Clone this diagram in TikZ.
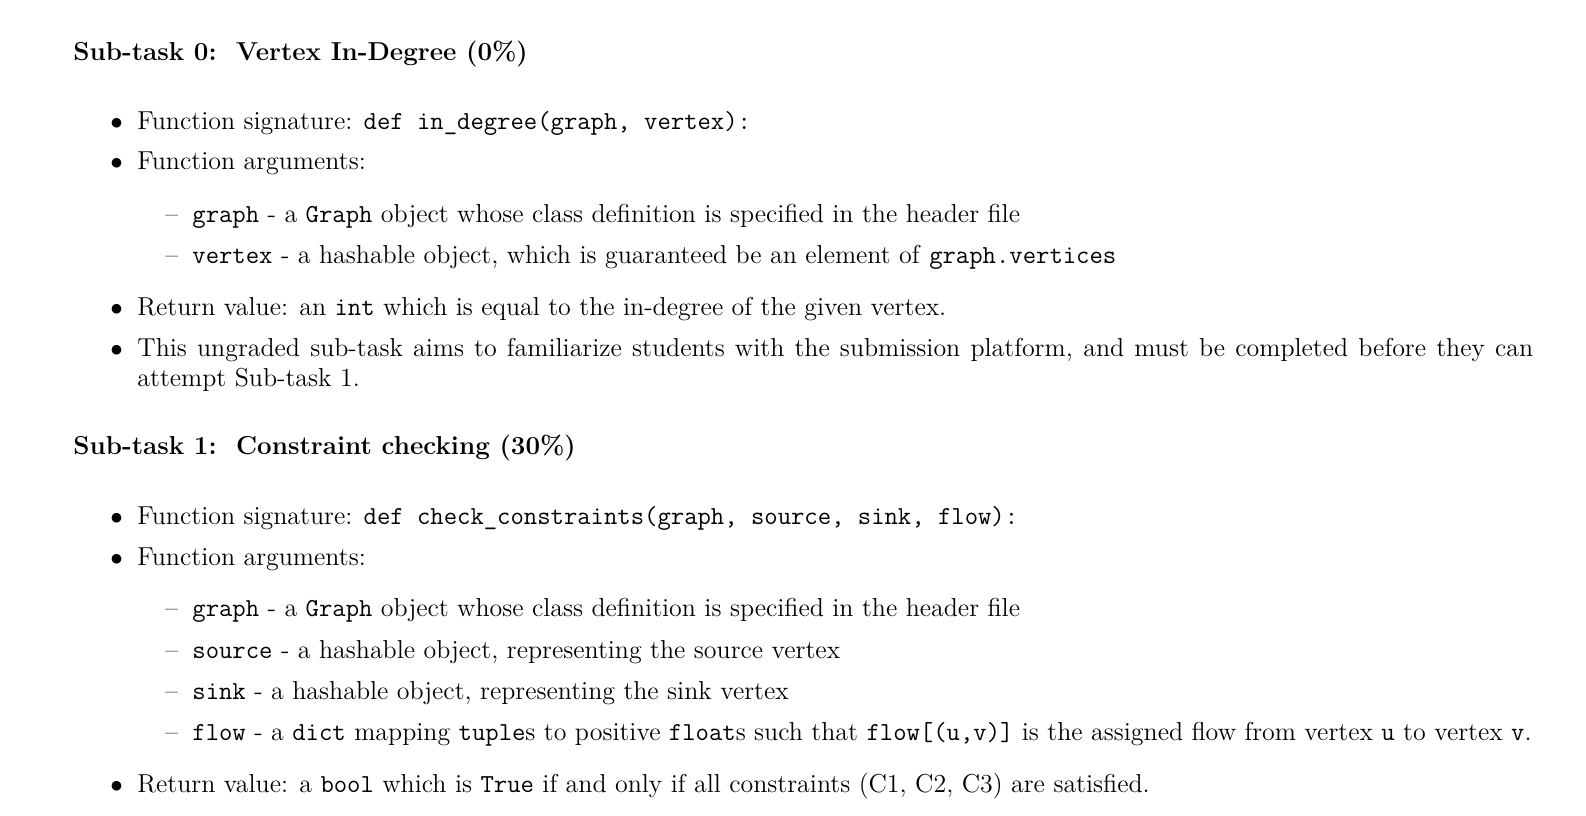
\documentclass[tikz,border=0pt]{standalone}
\begin{document}
\begin{tikzpicture}[x=0.48pt,y=-0.48pt,
  txt/.style={anchor=base west,inner sep=0pt,font=\fontsize{12.45}{15}\selectfont},
  hdr/.style={txt,font=\fontsize{12.45}{15}\selectfont\bfseries},
  bul/.style={anchor=base west,inner sep=0pt,font=\fontsize{12.45}{15}\selectfont}]
\useasboundingbox[fill=white] (0,0) rectangle (1586,815);
\node[hdr] (h0) at (73,60) {Sub-task 0:\ \ Vertex In-Degree (0\%)};
\node[bul] (b1) at (110,129) {$\bullet$};
\node[txt] (t1) at (137,129) {Function signature: \texttt{def in\_degree(graph, vertex):}};
\node[bul] (b2) at (110,169) {$\bullet$};
\node[txt] (t2) at (137,169) {Function arguments:};
\node[txt] (d1) at (165,222) {--};
\node[txt] (t3) at (192,222) {\texttt{graph} - a \texttt{Graph} object whose class definition is specified in the header file};
\node[txt] (d2) at (165,263) {--};
\node[txt] (t4) at (192,263) {\texttt{vertex} - a hashable object, which is guaranteed be an element of \texttt{graph.vertices}};
\node[bul] (b3) at (110,315) {$\bullet$};
\node[txt] (t5) at (137,315) {Return value: an \texttt{int} which is equal to the in-degree of the given vertex.};
\node[bul] (b4) at (110,356) {$\bullet$};
\node[txt,text width=670pt,align=justify,font=\fontsize{12.45}{14.4}\selectfont] (t6) at (137,356) {This ungraded sub-task aims to familiarize students with the submission platform, and must be completed before they can\linebreak attempt Sub-task 1.};
\node[hdr] (h1) at (73,454) {Sub-task 1:\ \ Constraint checking (30\%)};
\node[bul] (b5) at (110,524) {$\bullet$};
\node[txt] (t7) at (137,524) {Function signature: \texttt{def check\_constraints(graph, source, sink, flow):}};
\node[bul] (b6) at (110,565) {$\bullet$};
\node[txt] (t8) at (137,565) {Function arguments:};
\node[txt] (d3) at (165,616) {--};
\node[txt] (t9) at (192,616) {\texttt{graph} - a \texttt{Graph} object whose class definition is specified in the header file};
\node[txt] (d4) at (165,658) {--};
\node[txt] (t10) at (192,658) {\texttt{source} - a hashable object, representing the source vertex};
\node[txt] (d5) at (165,699) {--};
\node[txt] (t11) at (192,699) {\texttt{sink} - a hashable object, representing the sink vertex};
\node[txt] (d6) at (165,740) {--};
\node[txt] (t12) at (192,740) {\texttt{flow} - a \texttt{dict} mapping \texttt{tuple}s to positive \texttt{float}s such that \texttt{flow[(u,v)]} is the assigned flow from vertex \texttt{u} to vertex \texttt{v}.};
\node[bul] (b7) at (110,792) {$\bullet$};
\node[txt] (t13) at (137,792) {Return value: a \texttt{bool} which is \texttt{True} if and only if all constraints (C1, C2, C3) are satisfied.};
\end{tikzpicture}
\end{document}
